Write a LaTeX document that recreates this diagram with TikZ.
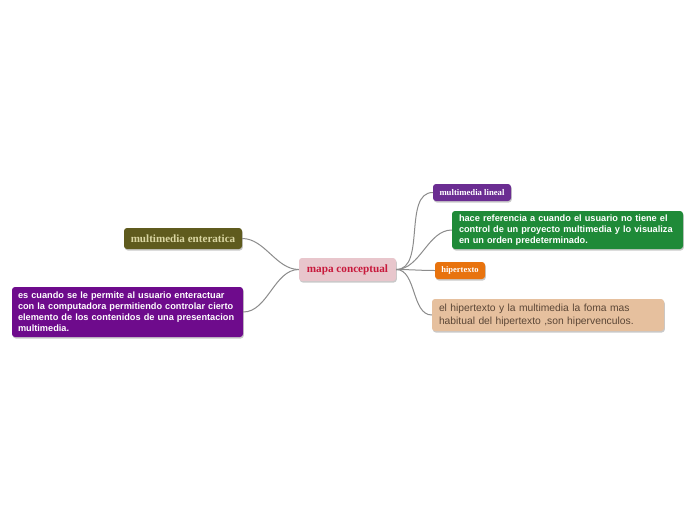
\documentclass[tikz,border=0pt]{standalone}
\usepackage{fontspec}
\setmainfont{Liberation Serif}
\setsansfont{Liberation Sans}
\usetikzlibrary{shadows}
\definecolor{cfill}{HTML}{E8C6CC}
\definecolor{ctext}{HTML}{C8193C}
\definecolor{olive}{HTML}{5F5B1E}
\definecolor{olivetext}{HTML}{DAD6A2}
\definecolor{lpurple}{HTML}{6E0B8C}
\definecolor{rpurple}{HTML}{6B2D92}
\definecolor{mgreen}{HTML}{1F8A38}
\definecolor{morange}{HTML}{E8730E}
\definecolor{tan}{HTML}{E6C09E}
\definecolor{tantext}{HTML}{5B4636}
\definecolor{linkgray}{HTML}{8C8C8C}
\tikzset{
  box/.style={rectangle, rounded corners=3pt, inner xsep=0pt, inner ysep=0pt,
    drop shadow={opacity=0.35, shadow xshift=0.8pt, shadow yshift=-1.5pt, fill=black!60}},
  sansbold/.style={font=\sffamily\bfseries\fontsize{9.2}{11}\selectfont, align=left, text=white},
  link/.style={draw=linkgray, line width=1pt},
}
\begin{document}
\begin{tikzpicture}[x=1pt,y=-1pt]
\useasboundingbox[fill=white] (0,0) rectangle (696,520);
% central node
\node[box, fill=cfill, minimum width=97pt, minimum height=23pt, text=ctext,
  font=\rmfamily\bfseries\fontsize{11.2}{13}\selectfont] (c) at (347.5,269.5) {mapa conceptual};
% left nodes
\node[box, fill=olive, minimum width=118pt, minimum height=21pt, text=olivetext,
  font=\rmfamily\bfseries\fontsize{11.1}{12}\selectfont] (me) at (183,238.5) {multimedia enteratica};
\node[box, fill=lpurple, minimum width=231pt, minimum height=50pt, text width=219pt, sansbold] (lp) at (127.5,312)
  {es cuando se le permite al usuario enteractuar\\con la computadora permitiendo controlar cierto\\elemento de los contenidos de una presentacion\\multimedia.};
% right nodes
\node[box, fill=rpurple, minimum width=78pt, minimum height=17pt, text=white,
  font=\rmfamily\bfseries\fontsize{8.7}{9}\selectfont] (ml) at (472,192.5) {multimedia lineal};
\node[box, fill=mgreen, minimum width=231pt, minimum height=38pt, text width=217pt, sansbold] (gr) at (567.5,230)
  {hace referencia a cuando el usuario no tiene el\\control de un proyecto multimedia y lo visualiza\\en un orden predeterminado.};
\node[box, fill=morange, minimum width=50pt, minimum height=17pt, text=white,
  font=\rmfamily\bfseries\fontsize{8.5}{9}\selectfont] (hi) at (460,270.5) {hipertexto};
\node[box, fill=tan, minimum width=232pt, minimum height=32pt, text width=218pt, align=left, text=tantext,
  font=\sffamily\fontsize{10.3}{13}\selectfont] (tn) at (548,315)
  {el hipertexto y la multimedia la foma mas\\habitual del hipertexto ,son hipervenculos.};
% connectors
\draw[link] (c.east) to[out=0,in=180,looseness=0.9] (ml.west);
\draw[link] (c.east) to[out=0,in=180,looseness=0.9] (gr.west);
\draw[link] (c.east) to[out=0,in=180] (hi.west);
\draw[link] (c.east) to[out=0,in=180,looseness=0.9] (tn.west);
\draw[link] (c.west) to[out=180,in=0,looseness=0.9] (me.east);
\draw[link] (c.west) to[out=180,in=0,looseness=0.9] (lp.east);
\end{tikzpicture}
\end{document}
